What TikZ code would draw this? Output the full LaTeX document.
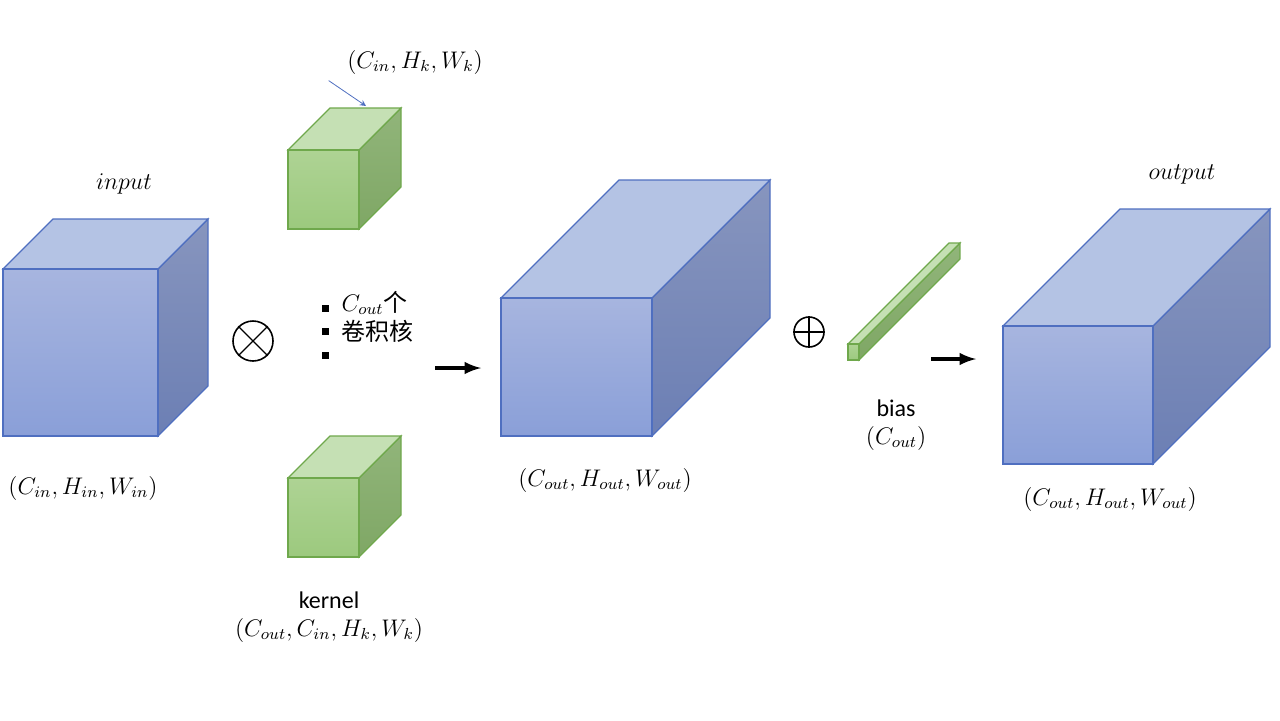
\documentclass[tikz,border=0pt]{standalone}
\usepackage{fontspec}
\setmainfont{Carlito}
\newfontfamily\cjk{Noto Sans CJK SC}
\usepackage{tikz}
\definecolor{bfront1}{HTML}{A7B5DF}
\definecolor{bfront2}{HTML}{8A9FD8}
\definecolor{btop}{HTML}{B4C3E4}
\definecolor{bside1}{HTML}{8795BE}
\definecolor{bside2}{HTML}{6C7FB4}
\definecolor{bedge}{HTML}{4F6FC0}
\definecolor{gfront1}{HTML}{AED394}
\definecolor{gfront2}{HTML}{9CC97E}
\definecolor{gtop}{HTML}{C5E0B4}
\definecolor{gside1}{HTML}{91B57A}
\definecolor{gside2}{HTML}{7FA765}
\definecolor{gedge}{HTML}{6FA84C}
\tikzstyle{blue front}=[top color=bfront1,bottom color=bfront2,draw=bedge]
\tikzstyle{blue top}=[fill=btop,draw=bedge]
\tikzstyle{blue side}=[top color=bside1,bottom color=bside2,draw=bedge]
\tikzstyle{green front}=[top color=gfront1,bottom color=gfront2,draw=gedge]
\tikzstyle{green top}=[fill=gtop,draw=gedge]
\tikzstyle{green side}=[top color=gside1,bottom color=gside2,draw=gedge]
\tikzstyle{label}=[font=\large,inner sep=0pt]
\tikzstyle{op}=[circle,draw,thick,inner sep=0pt]
% name, x, y, w, h, depth, palette
\newcommand\drawcube[7]{%
  \shade[#7 side] ({#2+#4},#3) -- ++(#6,-#6) -- ++(0,#5) -- ++(-#6,#6) -- cycle;
  \fill[#7 top] (#2,#3) -- ++(#6,-#6) -- ++(#4,0) -- ++(-#6,#6) -- cycle;
  \shade[#7 front] (#2,#3) rectangle ++(#4,#5);
  \coordinate (#1) at ({#2+#4/2},{#3+#5/2});
}
\begin{document}
\begin{tikzpicture}[x=0.5pt,y=-0.5pt,line width=0.6pt]
  \useasboundingbox (0,0) rectangle (1280,720);

  \drawcube{input}{3}{269}{155}{167}{50}{blue}
  \drawcube{kernel top}{288}{150}{71}{79}{42}{green}
  \drawcube{kernel bottom}{288}{478}{71}{79}{42}{green}
  \drawcube{conv}{501}{298}{151}{138}{118}{blue}
  \drawcube{bias}{848}{344}{11}{16}{101}{green}
  \drawcube{output}{1003}{326}{150}{138}{117}{blue}

  \node[label] (input name) at (124,184) {$input$};
  \node[label] (input size) at (83,488) {$(C_{in},H_{in},W_{in})$};
  \node[op,minimum size=20pt] (conv op) at (253,341) {};
  \draw (conv op.north west) -- (conv op.south east)
        (conv op.north east) -- (conv op.south west);

  \node[label] (kernel size) at (415,62) {$(C_{in},H_k,W_k)$};
  \coordinate (kernel tip) at (366,106);
  \draw[-stealth,bedge,thin] (kernel size.south west) ++(-18,6) -- (kernel tip);

  \foreach \y/\n in {309/a,332/b,356/c}
    \fill (322,{\y-4}) rectangle ++(7,7) coordinate (dot \n);
  \node[label,anchor=west] (count) at (341,303) {$C_{out}${\cjk 个}};
  \node[label,anchor=west] (count) at (341,331) {\cjk 卷积核};

  \node[label] (kernel name) at (329,600) {kernel};
  \node[label] (kernel shape) at (329,630) {$(C_{out},C_{in},H_k,W_k)$};

  \coordinate (arrow a) at (435,368);
  \coordinate (arrow b) at (481,368);
  \draw[-latex,line width=1.8pt] (arrow a) -- (arrow b);

  \node[label] (conv size) at (605,480) {$(C_{out},H_{out},W_{out})$};

  \node[op,minimum size=15pt] (add op) at (809,332) {};
  \draw (add op.north) -- (add op.south) (add op.west) -- (add op.east);

  \node[label] (bias name) at (896,408) {bias};
  \node[label] (bias size) at (896,438) {$(C_{out})$};

  \coordinate (arrow c) at (931,359);
  \coordinate (arrow d) at (976,359);
  \draw[-latex,line width=1.8pt] (arrow c) -- (arrow d);

  \node[label] (output name) at (1182,174) {$output$};
  \node[label] (output size) at (1110,499) {$(C_{out},H_{out},W_{out})$};
\end{tikzpicture}
\end{document}
